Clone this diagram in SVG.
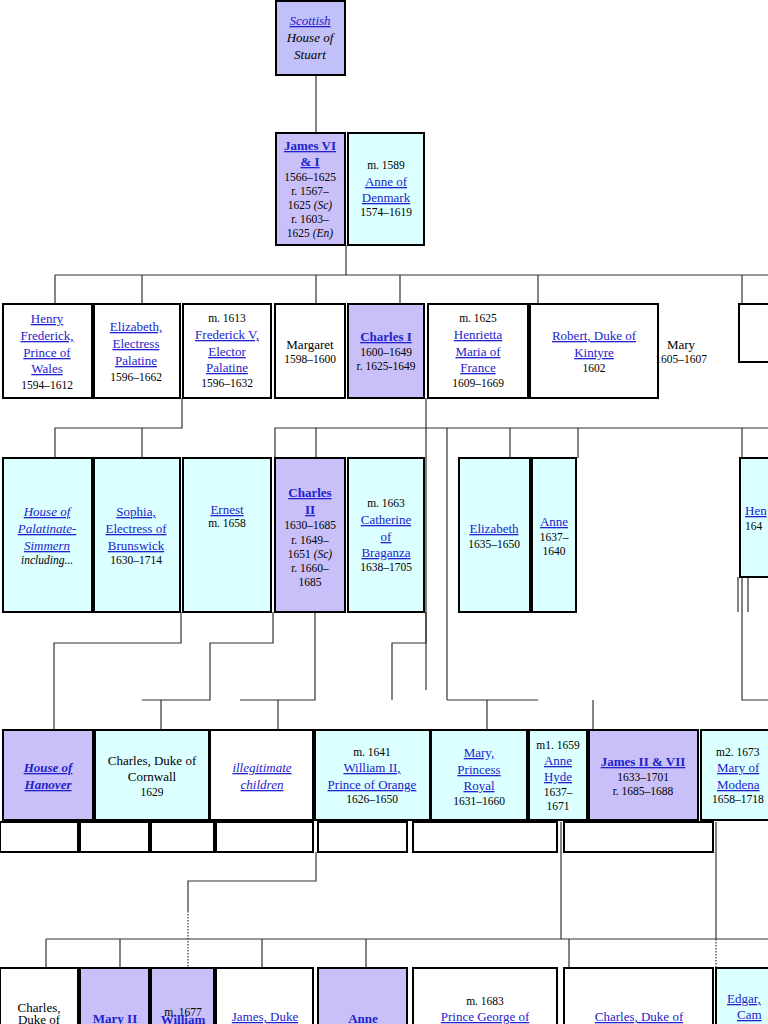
<svg xmlns="http://www.w3.org/2000/svg" width="768" height="1024" viewBox="0 0 768 1024">
<style>
rect{stroke:#000;stroke-width:2}
.p{fill:#c9c0fa}.s{fill:#c2c0f8}.c{fill:#dcffff}.w{fill:#fff}
text{font-family:"Liberation Serif","Times New Roman",serif;text-anchor:middle;font-size:13px;fill:#000}
.l{fill:#2222cc;text-decoration:underline}
.b{font-weight:bold}.i{font-style:italic}.d{font-size:11.5px}
#conn path{fill:none;stroke:#333;stroke-width:1.2}
</style>
<rect width="768" height="1024" fill="#fff" style="stroke:none"/>
<g id="conn">
<path d="M316 75V133M346 245V275M55 275H768M55 275V304M142 275V304M316 275V304M400 275V304M538 275V304M742 275V304"/>
<path d="M182 398V428H55V458M142 428V458M426 398V690M275 458V428H768M316 428V458M510 428V458M578 428V458M742 428V458M447 428V700"/>
<path d="M181 612V643H54V730M273 612V643H210V700H142M161 700V730M315 612V700H240M278 700V730M426 612V643H392V700M447 700H538M487 700V730M593 700V730M742 577V700H768M738 577V612M748 577V612"/>
<path d="M316 852V881H188V911M561 822V939M716 822V939M46 939H768M46 939V968M120 939V968M262 939V968M366 939V968M569 939V968"/>
<path d="M188 911V968M716 939V968" stroke-dasharray="1.5 1.5"/>
</g>
<g id="n1"><rect class="s" x="276" y="1" width="69" height="74"/><text class="l i" x="310" y="25">Scottish</text><text class="i" x="310" y="42">House of</text><text class="i" x="310" y="59">Stuart</text></g>
<g id="n2"><rect class="p" x="276" y="133" width="69" height="112"/><text class="l b" x="310" y="150">James VI</text><text class="l b" x="310" y="166">&amp; I</text><text class="d" x="310" y="181">1566–1625</text><text class="d" x="310" y="195">r. 1567–</text><text class="d" x="310" y="209">1625 <tspan font-style="italic">(Sc)</tspan></text><text class="d" x="310" y="223">r. 1603–</text><text class="d" x="310" y="237">1625 <tspan font-style="italic">(En)</tspan></text></g>
<g id="n3"><rect class="c" x="348" y="133" width="76" height="112"/><text class="d" x="386" y="169">m. 1589</text><text class="l" x="386" y="186">Anne of</text><text class="l" x="386" y="202">Denmark</text><text class="d" x="386" y="216">1574–1619</text></g>
<g id="r1a"><rect class="w" x="3" y="304" width="89" height="94"/><text class="l" x="47" y="323">Henry</text><text class="l" x="47" y="340">Frederick,</text><text class="l" x="47" y="357">Prince of</text><text class="l" x="47" y="373">Wales</text><text class="d" x="47" y="389">1594–1612</text></g>
<g id="r1b"><rect class="w" x="94" y="304" width="86" height="94"/><text class="l" x="136" y="331">Elizabeth,</text><text class="l" x="136" y="348">Electress</text><text class="l" x="136" y="365">Palatine</text><text class="d" x="136" y="381">1596–1662</text></g>
<g id="r1c"><rect class="w" x="183" y="304" width="88" height="94"/><text class="d" x="227" y="322">m. 1613</text><text class="l" x="227" y="339">Frederick V,</text><text class="l" x="227" y="356">Elector</text><text class="l" x="227" y="372">Palatine</text><text class="d" x="227" y="387">1596–1632</text></g>
<g id="r1d"><rect class="w" x="275" y="304" width="70" height="94"/><text x="310" y="349">Margaret</text><text class="d" x="310" y="363">1598–1600</text></g>
<g id="r1e"><rect class="p" x="348" y="304" width="76" height="94"/><text class="l b" x="386" y="341">Charles I</text><text class="d" x="386" y="356">1600–1649</text><text class="d" x="386" y="370">r. 1625-1649</text></g>
<g id="r1f"><rect class="w" x="428" y="304" width="100" height="94"/><text class="d" x="478" y="322">m. 1625</text><text class="l" x="478" y="339">Henrietta</text><text class="l" x="478" y="356">Maria of</text><text class="l" x="478" y="372">France</text><text class="d" x="478" y="387">1609–1669</text></g>
<g id="r1g"><rect class="w" x="530" y="304" width="128" height="94"/><text class="l" x="594" y="340">Robert, Duke of</text><text class="l" x="594" y="357">Kintyre</text><text class="d" x="594" y="372">1602</text></g>
<g id="r1h"><text x="681" y="349">Mary</text><text class="d" x="681" y="363">1605–1607</text></g>
<g id="r1i"><rect class="w" x="739" y="304" width="31" height="58"/></g>
<g id="r2a"><rect class="c" x="3" y="458" width="89" height="154"/><text class="l i" x="47" y="516">House of</text><text class="l i" x="47" y="533">Palatinate-</text><text class="l i" x="47" y="550">Simmern</text><text class="i d" x="47" y="564">including...</text></g>
<g id="r2b"><rect class="c" x="94" y="458" width="86" height="154"/><text class="l" x="136" y="516">Sophia,</text><text class="l" x="136" y="533">Electress of</text><text class="l" x="136" y="550">Brunswick</text><text class="d" x="136" y="564">1630–1714</text></g>
<g id="r2c"><rect class="c" x="183" y="458" width="88" height="154"/><text class="d" x="227" y="527">m. 1658</text><text class="l" x="227" y="515" dy="0"/><text class="d" x="227" y="527" display="none"/></g>
<g id="r2c-names"><text class="d" x="227" y="0" display="none"/></g>
<g id="r2c-lines"><text class="l" x="227" y="514">Ernest</text></g>
<g id="r2d"><rect class="p" x="275" y="458" width="70" height="154"/><text class="l b" x="310" y="497">Charles</text><text class="l b" x="310" y="514">II</text><text class="d" x="310" y="529">1630–1685</text><text class="d" x="310" y="544">r. 1649–</text><text class="d" x="310" y="558">1651 <tspan font-style="italic">(Sc)</tspan></text><text class="d" x="310" y="572">r. 1660–</text><text class="d" x="310" y="586">1685</text></g>
<g id="r2e"><rect class="c" x="348" y="458" width="76" height="154"/><text class="d" x="386" y="507">m. 1663</text><text class="l" x="386" y="524">Catherine</text><text class="l" x="386" y="541">of</text><text class="l" x="386" y="557">Braganza</text><text class="d" x="386" y="571">1638–1705</text></g>
<g id="r2f"><rect class="c" x="459" y="458" width="71" height="154"/><text class="l" x="494" y="533">Elizabeth</text><text class="d" x="494" y="548">1635–1650</text></g>
<g id="r2g"><rect class="c" x="532" y="458" width="44" height="154"/><text class="l" x="554" y="526">Anne</text><text class="d" x="554" y="541">1637–</text><text class="d" x="554" y="555">1640</text></g>
<g id="r2h"><rect class="c" x="740" y="458" width="30" height="119"/><text class="l" x="745" y="515" style="text-anchor:start">Hen</text><text class="d" x="745" y="530" style="text-anchor:start">164</text></g>
<g id="r3a"><rect class="p" x="3" y="730" width="90" height="90"/><text class="l b i" x="48" y="772">House of</text><text class="l b i" x="48" y="789">Hanover</text></g>
<g id="r3b"><rect class="c" x="95" y="730" width="114" height="90"/><text x="152" y="765">Charles, Duke of</text><text x="152" y="781">Cornwall</text><text class="d" x="152" y="796">1629</text></g>
<g id="r3c"><rect class="w" x="210" y="730" width="103" height="90"/><text class="l i" x="262" y="772">illegitimate</text><text class="l i" x="262" y="789">children</text></g>
<g id="r3d"><rect class="c" x="315" y="730" width="115" height="90"/><text class="d" x="372" y="756">m. 1641</text><text class="l" x="372" y="772">William II,</text><text class="l" x="372" y="789">Prince of Orange</text><text class="d" x="372" y="803">1626–1650</text></g>
<g id="r3e"><rect class="c" x="431" y="730" width="96" height="90"/><text class="l" x="479" y="757">Mary,</text><text class="l" x="479" y="774">Princess</text><text class="l" x="479" y="790">Royal</text><text class="d" x="479" y="805">1631–1660</text></g>
<g id="r3f"><rect class="c" x="529" y="730" width="58" height="90"/><text class="d" x="558" y="749">m1. 1659</text><text class="l" x="558" y="765">Anne</text><text class="l" x="558" y="781">Hyde</text><text class="d" x="558" y="796">1637–</text><text class="d" x="558" y="810">1671</text></g>
<g id="r3g"><rect class="p" x="589" y="730" width="109" height="90"/><text class="l b" x="643" y="766">James II &amp; VII</text><text class="d" x="643" y="781">1633–1701</text><text class="d" x="643" y="795">r. 1685–1688</text></g>
<g id="r3h"><rect class="c" x="701" y="730" width="70" height="90"/><text class="d" x="716" y="756" style="text-anchor:start">m2. 1673</text><text class="l" x="717" y="772" style="text-anchor:start">Mary of</text><text class="l" x="717" y="789" style="text-anchor:start">Modena</text><text class="d" x="712" y="803" style="text-anchor:start">1658–1718</text></g>
<g id="r3s">
<rect class="w" x="0" y="822" width="78" height="30"/><rect class="w" x="80" y="822" width="69" height="30"/><rect class="w" x="151" y="822" width="63" height="30"/><rect class="w" x="216" y="822" width="97" height="30"/><rect class="w" x="318" y="822" width="89" height="30"/><rect class="w" x="413" y="822" width="144" height="30"/><rect class="w" x="564" y="822" width="149" height="30"/>
</g>
<g id="r4a"><rect class="w" x="0" y="968" width="78" height="60"/><text x="39" y="1012">Charles,</text><text x="39" y="1024">Duke of</text></g>
<g id="r4b"><rect class="p" x="80" y="968" width="69" height="60"/><text class="l b" x="115" y="1023">Mary II</text></g>
<g id="r4c"><rect class="p" x="151" y="968" width="63" height="60"/><text class="d" x="183" y="1016">m. 1677</text><text class="l b" x="183" y="1024">William</text></g>
<g id="r4d"><rect class="w" x="216" y="968" width="97" height="60"/><text class="l" x="265" y="1021">James, Duke</text></g>
<g id="r4e"><rect class="p" x="318" y="968" width="89" height="60"/><text class="l b" x="363" y="1023">Anne</text></g>
<g id="r4f"><rect class="w" x="413" y="968" width="144" height="60"/><text class="d" x="485" y="1005">m. 1683</text><text class="l" x="485" y="1021">Prince George of</text></g>
<g id="r4g"><rect class="w" x="564" y="968" width="149" height="60"/><text class="l" x="639" y="1021">Charles, Duke of</text></g>
<g id="r4h"><rect class="c" x="716" y="968" width="56" height="60"/><text class="l" x="727" y="1003" style="text-anchor:start">Edgar,</text><text class="l" x="737" y="1019" style="text-anchor:start">Cam</text></g>
</svg>
